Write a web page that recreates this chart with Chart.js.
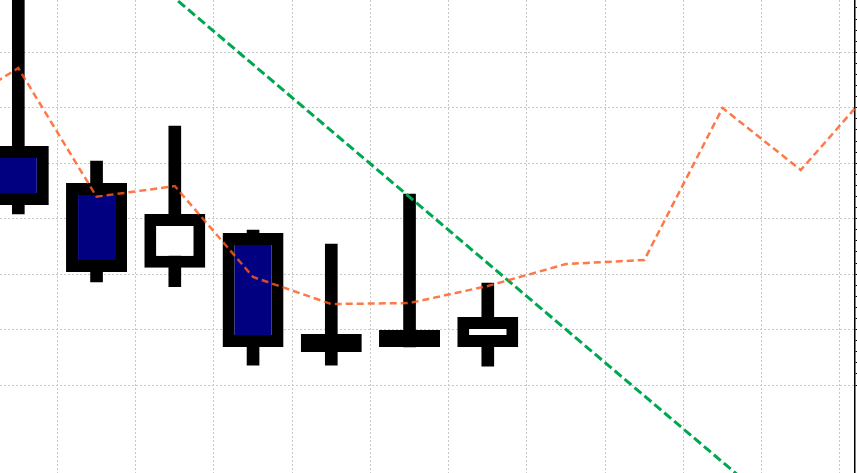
<!DOCTYPE html>
<html>
<head>
<meta charset="utf-8">
<title>Candles</title>
<script src="https://cdn.jsdelivr.net/npm/chart.js@4.4.0/dist/chart.umd.min.js"></script>
<style>
    html, body { margin: 0; padding: 0; overflow: hidden; background: #fff; }
    #wrap { position: relative; width: 857px; height: 473px; overflow: hidden; }
    #myChart { position: absolute; left: 0; top: 0; }
</style>
</head>
<body>
<div id="wrap"><canvas id="myChart" width="863" height="473"></canvas></div>
<script>
// slot 0 sits just left of the visible window, slot 12 just right of it
const slots   = [0, 1, 2, 3, 4, 5, 6, 7, 8, 9, 10, 11, 12];
const opens   = [null, 121.55, 118.21, 110.58, 113.71, 104.60, 104.96, 103.43, null, null, null, null, null];
const highs   = [null, 136.50, 120.20, 123.35, 113.98, 112.71, 117.22, 109.20, null, null, null, null, null];
const lows    = [null, 115.42, 109.29, 108.86, 101.80, 101.80, 103.43, 101.71, null, null, null, null, null];
const closes  = [null, 116.23, 110.19, 115.42, 103.43, 102.98, 103.43, 106.13, null, null, null, null, null];
const average = [124.17, 128.58, 116.98, 117.94, 109.74, 107.30, 107.39, 108.93, 110.91, 111.27, 124.98, 119.39, 127.41];

// trend line end points
const trendSlots  = [0, 12];
const trendValues = [152.8, 81.1];

// visible window of the axes
const xRange = [0.766, 11.693];
const yRange = [92.066, 134.716];
const yTickFirst = 100;
const yTickLast = 134;
const yGridEvery = 5;

document.addEventListener('DOMContentLoaded', function() {
    drawChart();
});

function candleRows() {
    const rows = [];
    slots.forEach((slot, i) => {
        if (opens[i] === null) return;
        rows.push({ x: slot, open: opens[i], high: highs[i], low: lows[i], close: closes[i] });
    });
    return rows;
}

function drawChart() {
    const rows = candleRows();
    const bodies = rows.map(r => ({ x: r.x, y: [r.open, r.close] }));
    const wicks = rows.map(r => ({ x: r.x, y: [r.low, r.high] }));
    const bodyColors = rows.map(r => r.close >= r.open ? '#ffffff' : '#000080');

    const ctx = document.getElementById('myChart').getContext('2d');
    new Chart(ctx, {
        type: 'line',
        data: {
            datasets: [
                {
                    label: 'Average',
                    data: slots.map((s, i) => ({ x: s, y: average[i] })),
                    borderColor: 'rgba(255, 90, 30, 0.82)',
                    borderWidth: 2.5,
                    borderDash: [7, 4],
                    pointRadius: 0,
                    tension: 0,
                    fill: false,
                    order: 0
                },
                {
                    label: 'Trend',
                    data: trendSlots.map((s, i) => ({ x: s, y: trendValues[i] })),
                    borderColor: '#00a650',
                    borderWidth: 3,
                    borderDash: [9, 4],
                    pointRadius: 0,
                    fill: false,
                    order: 1
                },
                {
                    type: 'bar',
                    label: 'Body',
                    data: bodies,
                    backgroundColor: bodyColors,
                    borderColor: '#000000',
                    borderWidth: 12,
                    borderSkipped: false,
                    inflateAmount: 0,
                    barThickness: 61,
                    grouped: false,
                    order: 2
                },
                {
                    type: 'bar',
                    label: 'Wick',
                    data: wicks,
                    backgroundColor: '#000000',
                    borderWidth: 0,
                    barThickness: 12,
                    grouped: false,
                    order: 3
                }
            ]
        },
        options: {
            responsive: false,
            animation: false,
            devicePixelRatio: 1,
            layout: { padding: 0 },
            plugins: {
                legend: { display: false },
                tooltip: { enabled: false }
            },
            scales: {
                x: {
                    type: 'linear',
                    min: xRange[0],
                    max: xRange[1],
                    offset: false,
                    afterBuildTicks: function(scale) {
                        // grid lines fall between the slots
                        scale.ticks = slots.map(s => s + 0.5)
                            .filter(v => v > scale.min && v < scale.max)
                            .map(v => ({ value: v }));
                    },
                    ticks: { display: false },
                    grid: { color: '#c8c8c8', lineWidth: 1, drawTicks: false, offset: false },
                    border: { display: false, dash: [2, 2] }
                },
                y: {
                    type: 'linear',
                    position: 'right',
                    min: yRange[0],
                    max: yRange[1],
                    afterBuildTicks: function(scale) {
                        const ticks = [];
                        for (let v = yTickFirst; v <= yTickLast; v++) ticks.push({ value: v });
                        scale.ticks = ticks;
                    },
                    ticks: { display: false },
                    grid: {
                        color: c => (c.tick && c.tick.value % yGridEvery === 0) ? '#c8c8c8' : 'rgba(0,0,0,0)',
                        lineWidth: 1,
                        tickColor: '#000000',
                        tickLength: 8,
                        tickWidth: 1
                    },
                    border: { display: true, color: '#000000', width: 1.5, dash: [2, 2] }
                }
            }
        }
    });
}
</script>
</body>
</html>
